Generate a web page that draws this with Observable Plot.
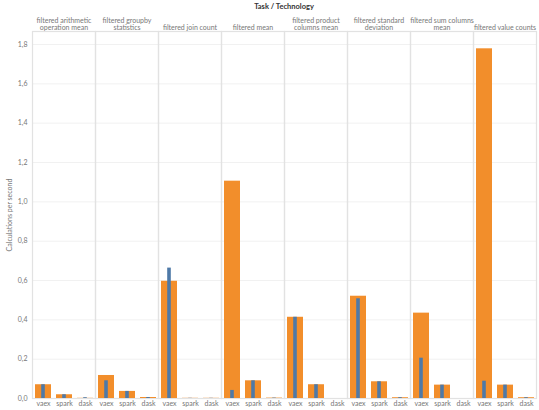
<!DOCTYPE html>
<html>
<head>
<meta charset="utf-8">
<script src="https://cdn.jsdelivr.net/npm/d3@7"></script>
<script src="https://cdn.jsdelivr.net/npm/@observablehq/plot@0.6"></script>
<style>
  html, body { margin: 0; padding: 0; background: #fff; }
</style>
</head>
<body>
<div id="chart"></div>
<script>
const tasks = [
  "filtered arithmetic operation mean",
  "filtered groupby statistics",
  "filtered join count",
  "filtered mean",
  "filtered product columns mean",
  "filtered standard deviation",
  "filtered sum columns mean",
  "filtered value counts"
];
const headerLabels = [
  "filtered arithmetic\noperation mean",
  "filtered groupby\nstatistics",
  "filtered join count",
  "filtered mean",
  "filtered product\ncolumns mean",
  "filtered standard\ndeviation",
  "filtered sum columns\nmean",
  "filtered value counts"
];
const techs = ["vaex", "spark", "dask"];
// Orange (wide) bars, per task: [vaex, spark, dask]
const orangeValues = [
  [0.070, 0.019, 0.001],
  [0.117, 0.036, 0.005],
  [0.596, 0.001, 0.001],
  [1.105, 0.090, 0.002],
  [0.413, 0.070, 0.000],
  [0.520, 0.085, 0.004],
  [0.434, 0.068, 0.000],
  [1.778, 0.068, 0.004]
];
// Blue (narrow) bars, per task: [vaex, spark, dask]
const blueValues = [
  [0.070, 0.019, 0.004],
  [0.090, 0.036, 0.005],
  [0.663, 0.001, 0.001],
  [0.041, 0.090, 0.002],
  [0.413, 0.070, 0.000],
  [0.507, 0.085, 0.004],
  [0.205, 0.068, 0.000],
  [0.088, 0.068, 0.004]
];
const yTicks = [0, 0.2, 0.4, 0.6, 0.8, 1.0, 1.2, 1.4, 1.6, 1.8];

const data = [];
tasks.forEach((task, i) => {
  techs.forEach((tech, j) => {
    data.push({task, tech, orange: orangeValues[i][j], blue: blueValues[i][j]});
  });
});
const headerMap = new Map(tasks.map((t, i) => [t, headerLabels[i]]));

const chart = Plot.plot({
  width: 539,
  height: 410,
  marginLeft: 29,
  marginRight: 0,
  marginTop: 31,
  marginBottom: 12,
  style: {fontFamily: "Lato, 'Open Sans', sans-serif", fontSize: "7px", color: "#777", background: "#fff"},
  fx: {
    domain: tasks,
    padding: 0,
    axis: "top",
    label: null,
    tickSize: 0,
    tickPadding: 1.5,
    tickFormat: d => headerMap.get(d)
  },
  x: {
    domain: techs,
    paddingInner: 0.26,
    paddingOuter: 0.13,
    label: null,
    tickSize: 0,
    tickPadding: 3
  },
  y: {
    domain: [0, 1.866],
    ticks: yTicks,
    tickFormat: d => d.toFixed(1).replace(".", ","),
    tickSize: 0,
    tickPadding: 5,
    grid: true,
    label: "Calculations per second",
    labelAnchor: "center",
    labelArrow: "none",
    labelOffset: 25
  },
  marks: [
    Plot.frame({stroke: "#e2e2e2", strokeWidth: 1.2}),
    Plot.barY(data, {fx: "task", x: "tech", y: "orange", fill: "#f28e2b"}),
    Plot.barY(data, {fx: "task", x: "tech", y: "blue", fill: "#4e79a7", insetLeft: 6.2, insetRight: 6.2})
  ]
});

d3.select(chart).append("text")
  .attr("x", 284)
  .attr("y", 8.5)
  .attr("text-anchor", "middle")
  .attr("font-weight", "bold")
  .attr("font-size", "7.5px")
  .attr("fill", "#333")
  .text("Task / Technology");

document.getElementById("chart").appendChild(chart);
</script>
</body>
</html>
